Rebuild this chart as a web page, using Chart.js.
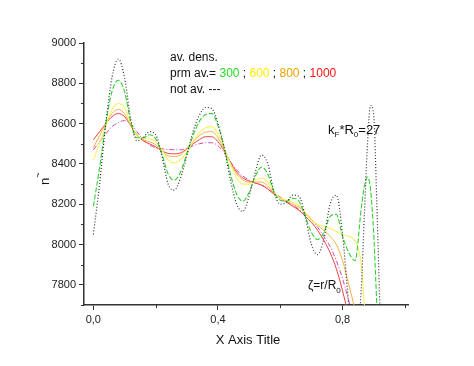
<!DOCTYPE html>
<html>
<head>
<meta charset="utf-8">
<script src="https://cdn.jsdelivr.net/npm/chart.js@4.4.1/dist/chart.umd.min.js"></script>
<style>
  html, body { margin: 0; padding: 0; background: #fff; }
  canvas { display: block; }
</style>
</head>
<body>
<canvas id="densChart" width="474" height="366"></canvas>
<script>
// radial positions (zeta = r/R0)
const zeta = [0, 0.02, 0.04, 0.06, 0.08, 0.10, 0.12, 0.14, 0.16, 0.18,
  0.20, 0.22, 0.24, 0.26, 0.28, 0.30, 0.32, 0.34, 0.36, 0.38,
  0.40, 0.42, 0.44, 0.46, 0.48, 0.50, 0.52, 0.54, 0.56, 0.58,
  0.60, 0.62, 0.64, 0.66, 0.68, 0.70, 0.72, 0.74, 0.76, 0.78,
  0.80, 0.82, 0.84, 0.86, 0.87, 0.88, 0.89, 0.90, 0.91, 0.92, 0.94];

// not averaged density
const notAv = [8050, 8300, 8600, 8830, 8920, 8830, 8620, 8515, 8530, 8560,
  8545, 8440, 8300, 8270, 8330, 8440, 8560, 8640, 8680, 8675,
  8600, 8480, 8320, 8200, 8165, 8240, 8360, 8445, 8400, 8260,
  8200, 8210, 8245, 8240, 8140, 8000, 7950, 8030, 8200, 8245,
  8050, 7700, 7450, 7780, 8150, 8500, 8690, 8640, 8200, 7700, 7300];

// averaged, prm = 300
const av300 = [8190, 8380, 8600, 8760, 8815, 8760, 8610, 8530, 8530, 8545,
  8525, 8450, 8350, 8320, 8360, 8450, 8540, 8610, 8645, 8650,
  8590, 8480, 8350, 8250, 8215, 8260, 8340, 8385, 8350, 8260,
  8220, 8215, 8230, 8215, 8140, 8060, 8025, 8060, 8140, 8150,
  8040, 7960, 7920, 8180, 8290, 8335, 8270, 8050, 7700, 7400, 7000];

// averaged, prm = 600
const av600 = [8420, 8500, 8590, 8670, 8700, 8680, 8600, 8540, 8525, 8525,
  8510, 8470, 8420, 8405, 8420, 8460, 8510, 8555, 8580, 8585,
  8550, 8480, 8400, 8330, 8300, 8300, 8320, 8330, 8310, 8260,
  8230, 8220, 8210, 8195, 8160, 8120, 8100, 8090, 8080, 8065,
  8050, 8040, 8020, 7900, 7700, 7500, 7300, 7100, 7000, 6900, 6800];

// averaged, prm = 800
const av800 = [8480, 8540, 8600, 8650, 8670, 8650, 8590, 8540, 8520, 8510,
  8495, 8465, 8440, 8437, 8445, 8475, 8510, 8540, 8558, 8560,
  8530, 8470, 8405, 8350, 8320, 8310, 8310, 8310, 8290, 8255,
  8230, 8215, 8200, 8185, 8160, 8125, 8095, 8070, 8040, 8000,
  7920, 7800, 7680, 7550, 7450, 7400, 7300, 7200, 7100, 7000, 6900];

// averaged, prm = 1000
const av1000 = [8520, 8560, 8600, 8635, 8650, 8635, 8590, 8545, 8515, 8500,
  8485, 8465, 8452, 8450, 8455, 8475, 8500, 8520, 8535, 8535,
  8510, 8465, 8410, 8360, 8330, 8315, 8305, 8295, 8275, 8250,
  8230, 8210, 8190, 8170, 8140, 8110, 8070, 8020, 7960, 7880,
  7770, 7640, 7500, 7400, 7350, 7300, 7250, 7200, 7150, 7100, 7000];

// extra averaged curve (dash-dot)
const avDashDot = [8470, 8510, 8550, 8585, 8605, 8615, 8600, 8560, 8520, 8495,
  8480, 8475, 8472, 8470, 8470, 8478, 8490, 8500, 8505, 8505,
  8490, 8455, 8410, 8370, 8340, 8320, 8305, 8295, 8280, 8255,
  8235, 8215, 8195, 8175, 8150, 8120, 8085, 8040, 7990, 7920,
  7830, 7720, 7600, 7500, 7450, 7400, 7350, 7300, 7250, 7200, 7100];

const yTicks = [7800, 8000, 8200, 8400, 8600, 8800, 9000];
const yMinor = [7700, 7900, 8100, 8300, 8500, 8700, 8900];
const xTicks = [0, 0.4, 0.8];
const xTickLabels = ['0,0', '0,4', '0,8'];
const xMinor = [0.2, 0.6, 1.0];

const FONT = '"Liberation Sans", Arial, sans-serif';
const AXIS_COLOR = '#333';

const toPoints = arr => zeta.map((x, i) => ({ x: x, y: arr[i] }));

function line(data, color, width, dash) {
    return {
        data: toPoints(data),
        borderColor: color,
        borderWidth: width,
        borderDash: dash,
        pointRadius: 0,
        fill: false,
        cubicInterpolationMode: 'monotone'
    };
}

// draw a run of text pieces: [text, size, dy, color]
function drawRuns(ctx, x, y, runs) {
    let cx = x;
    runs.forEach(([text, size, dy, color]) => {
        ctx.font = size + 'px ' + FONT;
        ctx.fillStyle = color || '#111';
        ctx.fillText(text, cx, y + (dy || 0));
        cx += ctx.measureText(text).width;
    });
}

const extrasPlugin = {
    id: 'extras',
    afterDraw(chart) {
        const ctx = chart.ctx;
        const xs = chart.scales.x, ys = chart.scales.y;
        const area = chart.chartArea;
        ctx.save();

        // minor ticks
        ctx.strokeStyle = AXIS_COLOR;
        ctx.lineWidth = 1;
        ctx.beginPath();
        yMinor.forEach(v => {
            const py = Math.round(ys.getPixelForValue(v)) + 0.5;
            ctx.moveTo(area.left - 3, py);
            ctx.lineTo(area.left, py);
        });
        xMinor.forEach(v => {
            const px = Math.round(xs.getPixelForValue(v)) + 0.5;
            ctx.moveTo(px, area.bottom);
            ctx.lineTo(px, area.bottom + 3);
        });
        ctx.stroke();

        ctx.textBaseline = 'middle';
        ctx.textAlign = 'left';

        // annotation block
        drawRuns(ctx, 170, 58, [['av. dens.', 12]]);
        drawRuns(ctx, 170, 74, [
            ['prm av.= ', 12], ['300', 12, 0, '#22dd22'], [' ; ', 12],
            ['600', 12, 0, '#ffee00'], [' ; ', 12], ['800', 12, 0, '#f0a000'],
            [' ; ', 12], ['1000', 12, 0, '#ff1010']
        ]);
        drawRuns(ctx, 170, 90, [['not av. ---', 12]]);

        drawRuns(ctx, 328, 130, [
            ['k', 13], ['F', 8, 5], ['*R', 13], ['0', 8, 5], ['=27', 13]
        ]);
        drawRuns(ctx, 308, 286, [
            ['\u03B6=r/R', 12], ['0', 8, 5]
        ]);

        // axis titles
        ctx.textAlign = 'center';
        ctx.font = '13px ' + FONT;
        ctx.fillStyle = '#111';
        ctx.fillText('X Axis Title', 248, 340);

        ctx.translate(45, 180);
        ctx.rotate(-Math.PI / 2);
        ctx.textAlign = 'left';
        drawRuns(ctx, -5, 0, [['n', 13], ['~', 9, -6]]);
        ctx.restore();
    }
};

new Chart(document.getElementById('densChart'), {
    type: 'line',
    data: {
        datasets: [
            line(notAv, '#333', 1.2, [1, 2]),
            line(av300, '#30d030', 1.1, [5, 2]),
            line(av600, '#f8f060', 1.1, []),
            line(av800, '#f5b040', 1.0, []),
            line(av1000, '#ee4040', 1.0, []),
            line(avDashDot, '#d04ab0', 1.0, [5, 2, 1, 2])
        ]
    },
    options: {
        responsive: false,
        animation: false,
        devicePixelRatio: 1,
        layout: { padding: { left: 0, top: 43, right: 66, bottom: 0 } },
        plugins: { legend: { display: false }, tooltip: { enabled: false } },
        scales: {
            x: {
                type: 'linear',
                min: -0.03,
                max: 1.01,
                afterFit: s => { s.height = 61; },
                afterBuildTicks: s => { s.ticks = xTicks.map(v => ({ value: v })); },
                ticks: {
                    font: { family: FONT, size: 11 },
                    color: '#222',
                    padding: 3,
                    maxRotation: 0,
                    callback: v => xTickLabels[xTicks.indexOf(v)]
                },
                grid: { drawOnChartArea: false, drawTicks: true, tickLength: 5, color: AXIS_COLOR, tickColor: AXIS_COLOR },
                border: { display: true, color: AXIS_COLOR, width: 1.5 }
            },
            y: {
                type: 'linear',
                min: 7700,
                max: 9000,
                afterFit: s => { s.width = 84; },
                afterBuildTicks: s => { s.ticks = yTicks.map(v => ({ value: v })); },
                ticks: {
                    font: { family: FONT, size: 11 },
                    color: '#222',
                    padding: 3,
                    callback: v => String(v)
                },
                grid: { drawOnChartArea: false, drawTicks: true, tickLength: 5, color: AXIS_COLOR, tickColor: AXIS_COLOR },
                border: { display: true, color: AXIS_COLOR, width: 1.5 }
            }
        }
    },
    plugins: [extrasPlugin]
});
</script>
</body>
</html>
